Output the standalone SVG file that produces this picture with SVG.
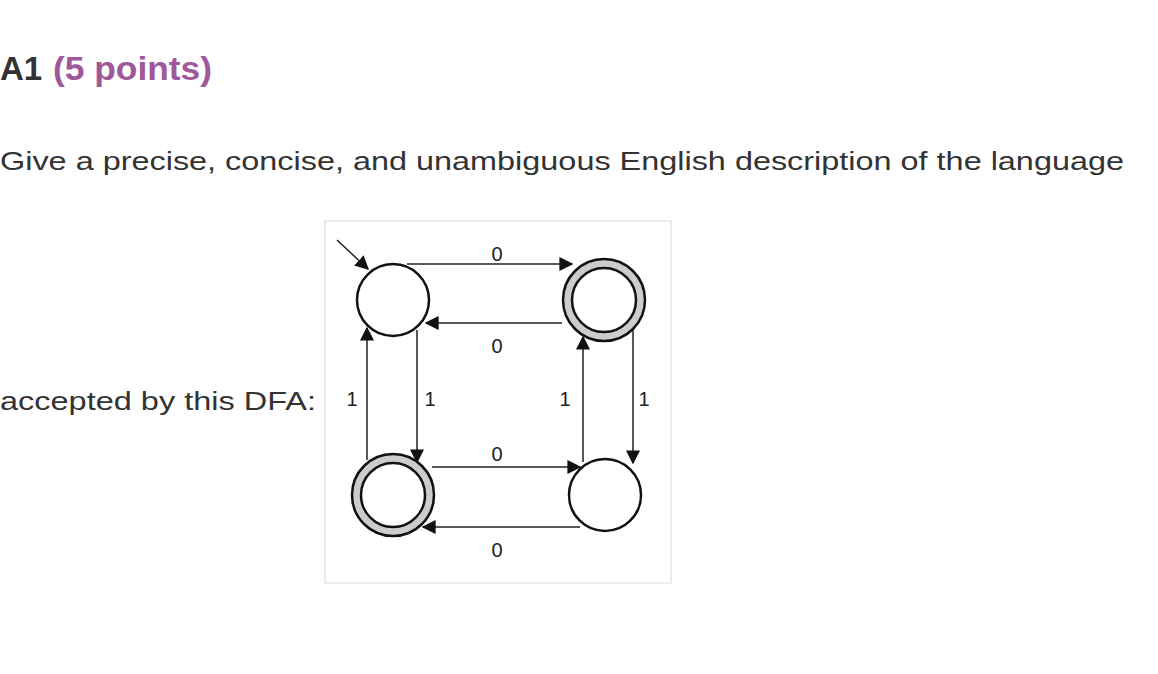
<svg xmlns="http://www.w3.org/2000/svg" width="1158" height="674" viewBox="0 0 1158 674">
<defs>
<marker id="ah" viewBox="0 0 10 10" refX="9" refY="5" markerWidth="14" markerHeight="14" markerUnits="userSpaceOnUse" orient="auto"><path d="M0,0 L10,5 L0,10 z" fill="#111"/></marker>
<style>
.t{font-family:"Liberation Sans",Arial,sans-serif;fill:#333}
.lb{font-family:"Liberation Sans",Arial,sans-serif;font-size:20px;fill:#222;text-anchor:middle}
.e{stroke:#222;stroke-width:1.5;fill:none;marker-end:url(#ah)}
.s{fill:#fff;stroke:#111;stroke-width:2.5}
.acc{fill:#ccc;stroke:#111;stroke-width:2.5}
</style>
</defs>
<rect width="1158" height="674" fill="#fff"/>
<text class="t" x="0" y="80" font-size="33" font-weight="bold">A1</text>
<text class="t" x="53" y="80" font-size="33" font-weight="bold" fill="#a0579c" style="fill:#a0579c" textLength="159" lengthAdjust="spacingAndGlyphs">(5 points)</text>
<text class="t" x="0" y="170" font-size="26" textLength="1124" lengthAdjust="spacingAndGlyphs">Give a precise, concise, and unambiguous English description of the language</text>
<text class="t" x="0" y="410" font-size="26" textLength="316" lengthAdjust="spacingAndGlyphs">accepted by this DFA:</text>
<rect x="325" y="221" width="346" height="362" fill="#fff" stroke="#e6e6e6" stroke-width="1.5"/>
<g id="connectors">
<line class="e" x1="337" y1="240" x2="368" y2="269"/>
<line class="e" x1="407" y1="264" x2="572" y2="264"/>
<line class="e" x1="562" y1="323" x2="426" y2="323"/>
<line class="e" x1="367" y1="460" x2="367" y2="328"/>
<line class="e" x1="417" y1="330" x2="417" y2="462"/>
<line class="e" x1="583" y1="462" x2="583" y2="337"/>
<line class="e" x1="633" y1="330" x2="633" y2="463"/>
<line class="e" x1="432" y1="467" x2="580" y2="467"/>
<line class="e" x1="580" y1="527" x2="423" y2="527"/>
<text class="lb" x="497" y="261">0</text>
<text class="lb" x="497" y="353">0</text>
<text class="lb" x="352" y="406">1</text>
<text class="lb" x="430" y="406">1</text>
<text class="lb" x="565" y="406">1</text>
<text class="lb" x="644" y="406">1</text>
<text class="lb" x="497" y="461">0</text>
<text class="lb" x="497" y="557">0</text>
</g>
<g id="q0"><circle class="s" cx="393" cy="300" r="36"/></g>
<g id="q1"><circle class="acc" cx="604" cy="300" r="41"/><circle class="s" cx="604" cy="300" r="32"/></g>
<g id="q2"><circle class="acc" cx="393" cy="495" r="41"/><circle class="s" cx="393" cy="495" r="32"/></g>
<g id="q3"><circle class="s" cx="605" cy="495" r="36"/></g>
</svg>
